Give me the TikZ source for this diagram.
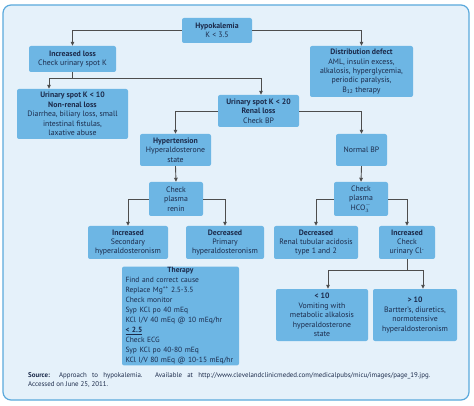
\documentclass[tikz,border=0pt]{standalone}
\usepackage{fontspec}
\setmainfont{PT Sans}
\usetikzlibrary{arrows.meta}
\definecolor{boxblue}{HTML}{6DB6E4}
\definecolor{bgblue}{HTML}{E5F1FA}
\definecolor{framec}{HTML}{5AA9DC}
\definecolor{navy}{HTML}{1C2B4B}
\definecolor{linegray}{HTML}{4D4D4D}
\begin{document}
\begin{tikzpicture}[x=1pt,y=-1pt,
  box/.style={fill=boxblue, rounded corners=2pt, text=navy, align=center,
    inner sep=1pt, font=\fontsize{7.8pt}{9.4pt}\selectfont},
  link/.style={draw=linegray, line width=0.9pt},
  arr/.style={link, -{Triangle[length=4pt,width=3.6pt]}}]
\useasboundingbox (0,0) rectangle (474,406);
\draw[fill=bgblue, draw=framec, line width=1.2pt, rounded corners=8pt] (3,5) rectangle (469,400);

\node[box, minimum width=70pt, minimum height=25pt] (hypo) at (217,30.5)
  {\textbf{Hypokalemia}\\K < 3.5};
\node[box, minimum width=87pt, minimum height=26pt] (incloss) at (72.5,59)
  {\textbf{Increased loss}\\Check urinary spot K};
\node[box, minimum width=103pt, minimum height=51pt] (dist) at (361.5,71.5)
  {\textbf{Distribution defect}\\AML, insulin excess,\\alkalosis, hyperglycemia,\\periodic paralysis,\\B\textsubscript{12} therapy};
\node[box, minimum width=111pt, minimum height=50pt] (k10) at (72.5,114)
  {\textbf{Urinary spot K < 10}\\\textbf{Non-renal loss}\\Diarrhea, biliary loss, small\\intestinal fistulas,\\laxative abuse};
\node[box, minimum width=81pt, minimum height=32pt] (k20) at (258.5,111)
  {\textbf{Urinary spot K < 20}\\\textbf{Renal loss}\\Check BP};
\node[box, minimum width=71pt, minimum height=32pt] (hyp) at (175.5,150)
  {\textbf{Hypertension}\\Hyperaldosterone\\state};
\node[box, minimum width=51pt, minimum height=32pt] (nbp) at (361.5,150)
  {Normal BP};
\node[box, minimum width=54pt, minimum height=34pt] (renin) at (176,199)
  {Check\\plasma\\renin};
\node[box, minimum width=54pt, minimum height=34pt] (hco) at (361,199)
  {Check\\plasma\\HCO$_3^-$};
\node[box, minimum width=80pt, minimum height=33pt] (inc2) at (128,242.5)
  {\textbf{Increased}\\Secondary\\hyperaldosteronism};
\node[box, minimum width=78pt, minimum height=33pt] (dec1) at (225,242.5)
  {\textbf{Decreased}\\Primary\\hyperaldosteronism};
\node[box, minimum width=84pt, minimum height=33pt] (rta) at (316,242.5)
  {\textbf{Decreased}\\Renal tubular acidosis\\type 1 and 2};
\node[box, minimum width=56pt, minimum height=33pt] (icl) at (407,242.5)
  {\textbf{Increased}\\Check\\urinary Cl\textsuperscript{-}};
\node[box, minimum width=117pt, minimum height=98pt, text width=110pt, align=left,
  inner xsep=3.5pt, font=\fontsize{7.5pt}{10pt}\selectfont] (ther) at (180.5,316)
  {\makebox[110pt]{\textbf{Therapy}}\\Find and correct cause\\Replace Mg\textsuperscript{++} 2.5-3.5\\Check monitor\\Syp KCl po 40 mEq\\KCl I/V 40 mEq @ 10 mEq/hr\\\underline{\textbf{< 2.5}}\\Check ECG\\Syp KCl po 40-80 mEq\\KCl I/V 80 mEq @ 10-15 mEq/hr};
\node[box, minimum width=92pt, minimum height=52pt] (lt10) at (322,315)
  {\textbf{< 10}\\Vomiting with\\metabolic alkalosis\\hyperaldosterone\\state};
\node[box, minimum width=84pt, minimum height=52pt] (gt10) at (415,315)
  {\textbf{> 10}\\Bartter's, diuretics,\\normotensive\\hyperaldosteronism};

\node[anchor=north west, inner sep=0pt, text width=402pt, align=justify, text=navy,
  font=\fontsize{6.9pt}{9pt}\selectfont] (src) at (28,372.5)
  {\textbf{Source:} Approach to hypokalemia. Available at http://www.clevelandclinicmeded.com/medicalpubs/micu/images/page\_19.jpg.\linebreak Accessed on June 25, 2011.};

% connectors
\draw[arr] (hypo.west) -| (incloss.north);
\draw[arr] (hypo.east) -| (dist.north);
\coordinate (j1) at (incloss.south |- 0,78);
\coordinate (j1l) at (49,78);
\coordinate (j1r) at (261,78);
\draw[link] (incloss.south) -- (j1);
\draw[arr] (j1) -- (j1l) -- (j1l |- k10.north);
\draw[arr] (j1) -- (j1r) -- (j1r |- k20.north);
\draw[arr] (k20.west) -| (hyp.north);
\draw[arr] (k20.east) -| (nbp.north);
\draw[arr] (hyp.south) -- (renin.north);
\draw[arr] (nbp.south) -- (hco.north);
\draw[arr] (renin.west) -| (inc2.north);
\draw[arr] (renin.east) -| (dec1.north);
\draw[arr] (hco.west) -| (rta.north);
\draw[arr] (hco.east) -| (icl.north);
\coordinate (j2) at (icl.south |- 0,270);
\coordinate (j2l) at (328,270);
\coordinate (j2r) at (423,270);
\draw[link] (icl.south) -- (j2);
\draw[arr] (j2) -- (j2l) -- (j2l |- lt10.north);
\draw[arr] (j2) -- (j2r) -- (j2r |- gt10.north);
\end{tikzpicture}
\end{document}
